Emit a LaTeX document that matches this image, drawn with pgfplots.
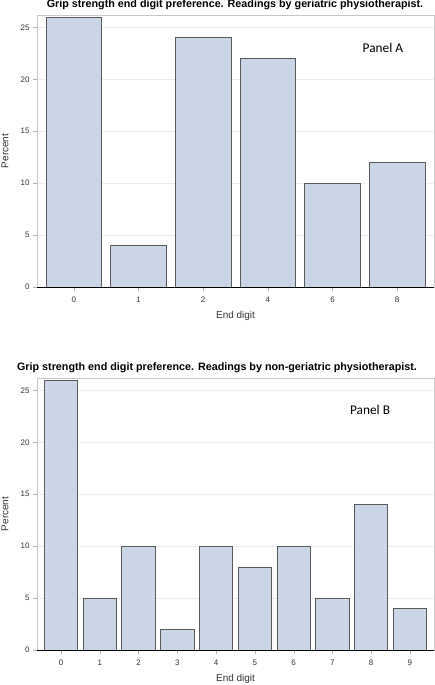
\documentclass[border=0pt]{standalone}
\usepackage{pgfplots}
\pgfplotsset{compat=1.18}
\usepackage{fontspec}
\setmainfont{Liberation Sans}
\newfontfamily\panelfont{Carlito}
\definecolor{barfill}{HTML}{CAD5E5}
\definecolor{baredge}{HTML}{5A5A5A}
\definecolor{frame}{HTML}{C8C8C8}
\definecolor{baseline}{HTML}{9A9A9A}
\definecolor{gridc}{HTML}{ECECEC}
\definecolor{txt}{HTML}{333333}
\pgfplotsset{
  sasbar/.style={
    scale only axis,
    width=397bp, height=272bp,
    anchor=south west,
    ymin=0, ymax=26.2,
    ytick={0,5,10,15,20,25},
    xtick pos=bottom, ytick pos=left,
    tick align=outside,
    major tick length=4bp,
    tick style={draw=gray!60},
    axis line style={draw=frame},
    ymajorgrids, grid style={draw=gridc},
    ybar, bar width=0.86,
    ticklabel style={font=\fontsize{8}{9}\selectfont, text=txt},
    xticklabel style={yshift=-2bp},
    /pgf/number format/assume math mode=true,
    label style={font=\fontsize{10}{11}\selectfont, text=txt},
    xlabel={End digit}, ylabel={Percent},
    xlabel style={at={(axis description cs:0.5,-0.1066)}, anchor=center},
    ylabel style={at={(axis description cs:-0.0806,0.5)}, anchor=center, rotate=0},
    clip=false,
    after end axis/.code={\draw[baseline, line width=0.8bp] (rel axis cs:0,0) -- (rel axis cs:1,0);},
  },
  sasplot/.style={fill=barfill, draw=baredge, line width=0.9bp},
}
\begin{document}
\begin{tikzpicture}
\useasboundingbox (0bp,0bp) rectangle (435bp,-685bp);
% Panel A
\begin{axis}[sasbar, at={(37bp,-287bp)},
  xmin=-0.57, xmax=5.57,
  xtick={0,1,2,3,4,5}, xticklabels={0,1,2,4,6,8}]
\addplot[sasplot] coordinates {(0,26) (1,4) (2,24) (3,22) (4,10) (5,12)};
\node[font=\panelfont\fontsize{13.4}{15}\selectfont, text=black] at (axis cs:4.78,23.0) {Panel A};
\end{axis}
\node[font=\bfseries\fontsize{10.8}{12}\selectfont] at (235bp,-5bp) {Grip strength end digit preference. Readings by geriatric physiotherapist.};
% Panel B
\begin{axis}[sasbar, at={(37bp,-650bp)},
  xmin=-0.62, xmax=9.62,
  xtick={0,1,2,3,4,5,6,7,8,9}, xticklabels={0,1,2,3,4,5,6,7,8,9}]
\addplot[sasplot] coordinates {(0,26) (1,5) (2,10) (3,2) (4,10) (5,8) (6,10) (7,5) (8,14) (9,4)};
\node[font=\panelfont\fontsize{13.4}{15}\selectfont, text=black] at (axis cs:7.97,23.1) {Panel B};
\end{axis}
\node[font=\bfseries\fontsize{10.8}{12}\selectfont] at (217bp,-368bp) {Grip strength end digit preference. Readings by non-geriatric physiotherapist.};
\end{tikzpicture}
\end{document}
